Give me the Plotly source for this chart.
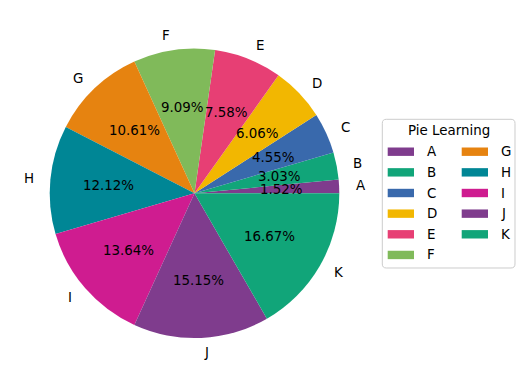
import math
import plotly.graph_objects as go

categories = ["A", "B", "C", "D", "E", "F", "G", "H", "I", "J", "K"]
values = [1, 2, 3, 4, 5, 6, 7, 8, 9, 10, 11]
palette = ["#7F3C8D", "#11A579", "#3969AC", "#F2B701", "#E73F74",
           "#80BA5A", "#E68310", "#008695", "#CF1C90"]
legend_title = "Pie Learning"

W, H = 524, 388
CX, CY, R = 194.5, 193.3, 144.8
FONT = "DejaVu Sans"
FS = 13.4

colors = [palette[i % len(palette)] for i in range(len(categories))]
total = sum(values)

fig = go.Figure()
# plotly places the first slice clockwise from `rotation` even in counterclockwise mode,
# so shift it so that the first slice starts at 3 o'clock going counterclockwise.
fig.add_trace(go.Pie(
    labels=categories, values=values, sort=False, direction="counterclockwise",
    rotation=90 - 360 * values[0] / total, marker=dict(colors=colors, line=dict(width=0)),
    textinfo="none", hoverinfo="label+percent", showlegend=False,
    domain=dict(x=[(CX - R) / W, (CX + R) / W], y=[1 - (CY + R) / H, 1 - (CY - R) / H]),
))

def px(x, y):
    return x / W, 1 - y / H

annotations = []
cum = 0
for lab, v in zip(categories, values):
    mid = 2 * math.pi * (cum + v / 2) / total
    cum += v
    c, s = math.cos(mid), math.sin(mid)
    x, y = px(CX + 0.6 * R * c, CY - 0.6 * R * s)
    annotations.append(dict(x=x, y=y, xref="paper", yref="paper", text=f"{100 * v / total:.2f}%",
                            showarrow=False, xanchor="center", yanchor="middle",
                            font=dict(family=FONT, size=FS, color="black")))
    x, y = px(CX + 1.1 * R * c, CY - 1.1 * R * s)
    annotations.append(dict(x=x, y=y, xref="paper", yref="paper", text=lab,
                            showarrow=False, xanchor="left" if c > 0 else "right", yanchor="middle",
                            font=dict(family=FONT, size=FS, color="black")))

# legend (two columns, column-major like matplotlib)
shapes = []
LX0, LY0, LX1, LY1 = 382.3, 119.3, 515.0, 268.0
rr = 4
path = (f"M {LX0+rr},{LY0} L {LX1-rr},{LY0} Q {LX1},{LY0} {LX1},{LY0+rr} "
        f"L {LX1},{LY1-rr} Q {LX1},{LY1} {LX1-rr},{LY1} L {LX0+rr},{LY1} "
        f"Q {LX0},{LY1} {LX0},{LY1-rr} L {LX0},{LY0+rr} Q {LX0},{LY0} {LX0+rr},{LY0} Z")
def conv_path(p):
    out = []
    for tok in p.split():
        if "," in tok:
            a, b = tok.split(",")
            xx, yy = px(float(a), float(b))
            out.append(f"{xx:.5f},{yy:.5f}")
        else:
            out.append(tok)
    return " ".join(out)
shapes.append(dict(type="path", xref="paper", yref="paper", path=conv_path(path),
                   line=dict(color="#cccccc", width=1), fillcolor="rgba(255,255,255,0.8)"))
tx, ty = px((LX0 + LX1) / 2, 130.7)
annotations.append(dict(x=tx, y=ty, xref="paper", yref="paper", text=legend_title, showarrow=False,
                        xanchor="center", yanchor="middle", font=dict(family=FONT, size=FS, color="black")))
nrows = 6
row_y0, row_dy = 151.7, 20.65
col_x = [387.7, 461.7]
for i, (lab, col) in enumerate(zip(categories, colors)):
    ci, ri = divmod(i, nrows)
    yc = row_y0 + ri * row_dy
    x0, y0 = px(col_x[ci], yc - 4.2)
    x1, y1 = px(col_x[ci] + 26.3, yc + 4.2)
    shapes.append(dict(type="rect", xref="paper", yref="paper", x0=x0, x1=x1, y0=y0, y1=y1,
                       fillcolor=col, line=dict(width=0)))
    lx, ly = px(col_x[ci] + 37.3, yc)
    annotations.append(dict(x=lx, y=ly, xref="paper", yref="paper", text=lab, showarrow=False,
                            xanchor="left", yanchor="middle", font=dict(family=FONT, size=FS, color="black")))

fig.update_layout(width=W, height=H, margin=dict(l=0, r=0, t=0, b=0),
                  paper_bgcolor="white", plot_bgcolor="white",
                  annotations=annotations, shapes=shapes, showlegend=False)
fig.write_html("out.html", config={"displayModeBar": False},
               post_script="document.body.style.margin='0';document.body.style.overflow='hidden';")
